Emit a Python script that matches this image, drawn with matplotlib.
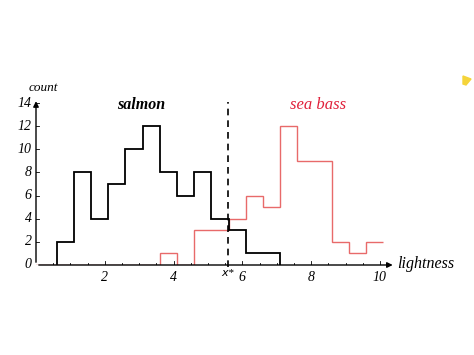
import matplotlib
matplotlib.use("Agg")
import matplotlib.pyplot as plt
import numpy as np

# Data
bin_edges = [0.6, 1.1, 1.6, 2.1, 2.6, 3.1, 3.6, 4.1, 4.6, 5.1, 5.6, 6.1, 6.6, 7.1, 7.6, 8.1, 8.6, 9.1, 9.6, 10.1]
salmon_counts = [2, 8, 4, 7, 10, 12, 8, 6, 8, 4, 3, 1, 1, 0, 0, 0, 0, 0, 0]
seabass_counts = [0, 0, 0, 0, 0, 0, 1, 0, 3, 3, 4, 6, 5, 12, 9, 9, 2, 1, 2]
x_star = 5.58
xticks = [2, 4, 6, 8, 10]
yticks = [0, 2, 4, 6, 8, 10, 12, 14]

plt.rcParams['font.family'] = ['Liberation Serif', 'DejaVu Serif']

fig = plt.figure(figsize=(4.74, 3.55), dpi=100)
ax = fig.add_axes([36/474, (355-265)/355, 10.5*34.4/474, 14.5*11.57/355])
ax.set_xlim(0, 10.5)
ax.set_ylim(0, 14.5)
for s in ax.spines.values():
    s.set_visible(False)
ax.set_xticks([])
ax.set_yticks([])
ax.patch.set_alpha(0)

red = '#e86a6a'
edges = np.array(bin_edges)
sb = np.array(seabass_counts)
sa = np.array(salmon_counts)
ax.plot([0, edges[0]], [0, 0], color=red, lw=1.0)
ax.stairs(sb, edges, color=red, lw=1.0, baseline=None)
last = np.nonzero(sa)[0].max() + 1
ax.stairs(sa[:last], edges[:last + 1], color='black', lw=1.3, baseline=0)

# axes with arrows
ax.annotate('', xy=(10.45, 0), xytext=(0, 0),
            arrowprops=dict(arrowstyle='-|>', color='black', lw=1.0, mutation_scale=8), annotation_clip=False)
ax.annotate('', xy=(0, 14.4), xytext=(0, 0),
            arrowprops=dict(arrowstyle='-|>', color='black', lw=1.0, mutation_scale=8), annotation_clip=False)

# ticks
for t in np.arange(0.5, 10.01, 0.5):
    h = 0.35 if t in xticks else 0.2
    ax.plot([t, t], [0, h], color='black', lw=0.6)
for t in xticks:
    ax.text(t, -0.5, str(t), ha='center', va='top', fontsize=10, style='italic')
for t in yticks:
    ax.plot([0, 0.08], [t, t], color='black', lw=0.6)
    ax.text(-0.12, t, str(t), ha='right', va='center', fontsize=10, style='italic')

# dashed x*
ax.plot([x_star, x_star], [-0.2, 14.1], color='black', lw=1.2, ls=(0, (4, 3)), clip_on=False)
ax.text(x_star, -0.15, r'$x$*', ha='center', va='top', fontsize=8, style='italic')

ax.text(3.05, 13.8, 'salmon', ha='center', va='center', fontsize=11.5, style='italic', weight='bold')
ax.text(8.2, 13.8, 'sea bass', ha='center', va='center', fontsize=12, style='italic', color='#e0203a')
ax.text(10.5, 0.1, 'lightness', ha='left', va='center', fontsize=11.5, style='italic')
ax.text(0.2, 15.3, 'count', ha='center', va='center', fontsize=9.5, style='italic')

# yellow smudge top right
fig.patches.append(matplotlib.patches.Polygon([[463/474, 1-76/355], [471/474, 1-79/355], [466/474, 1-85/355], [463/474, 1-84/355]],
                                              closed=True, color='#f5d43a', transform=fig.transFigure))

fig.savefig('out.png', dpi=100)
